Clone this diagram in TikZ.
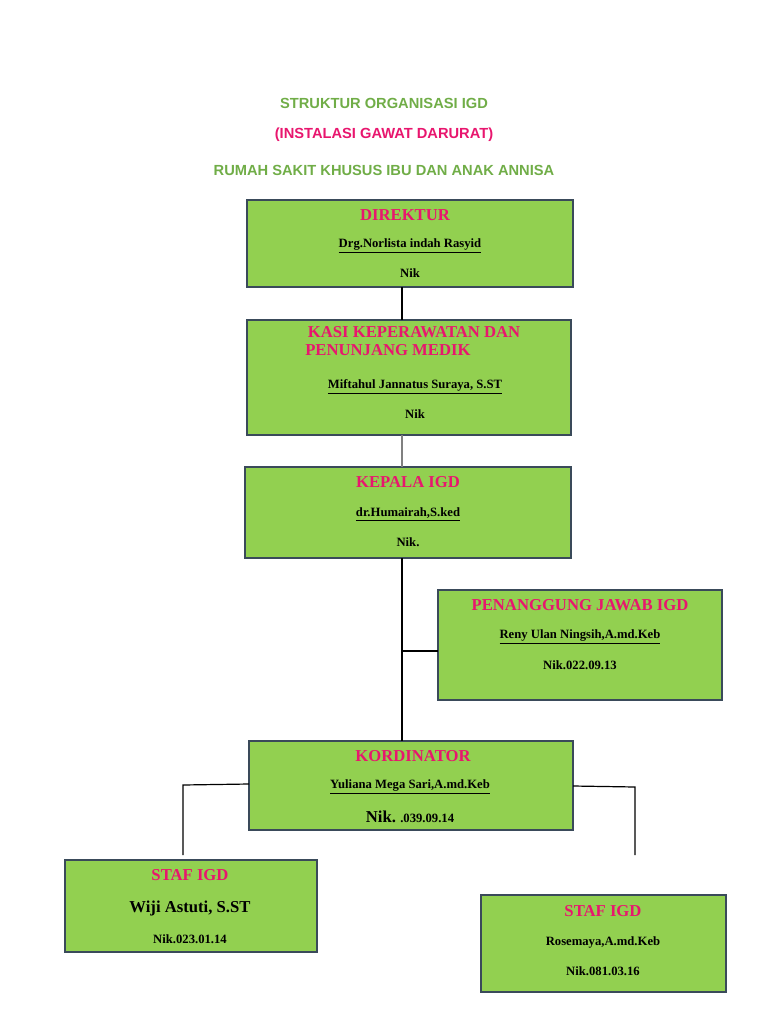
\documentclass[tikz,border=0pt]{standalone}
\usepackage{fontspec}
\setmainfont{Liberation Serif}
\newfontfamily\titlefont{Liberation Sans}
\definecolor{boxg}{HTML}{92D050}
\definecolor{ttlg}{HTML}{70AD47}
\definecolor{mag}{HTML}{E8166E}
\definecolor{edge}{HTML}{3A4A5A}
\begin{document}
\begin{tikzpicture}[x=0.75pt,y=-0.75pt,
  box/.style={draw=edge,fill=boxg,line width=0.8pt},
  hd/.style={text=mag,font=\bfseries\fontsize{12.5}{14}\selectfont,align=left},
  nm/.style={font=\bfseries\fontsize{9.5}{11}\selectfont},
  ttl/.style={font=\titlefont\bfseries\fontsize{11}{13}\selectfont},
  ln/.style={line width=0.9pt}]
\useasboundingbox (0,0) rectangle (768,1024);
\node[ttl,text=ttlg] (t1) at (384,103) {STRUKTUR ORGANISASI IGD};
\node[ttl,text=mag] (t2) at (384,135) {(INSTALASI GAWAT DARURAT)};
\node[ttl,text=ttlg] (t3) at (384,170) {RUMAH SAKIT KHUSUS IBU DAN ANAK ANNISA};
% boxes
\draw[box] (247,200) rectangle (573,287);
\node[hd] (h1) at (405,215) {DIREKTUR};
\node[nm] (n1) at (410,246) {\underline{Drg.Norlista indah Rasyid}};
\node[nm] (k1) at (410,273) {Nik};
\coordinate (b1t) at (402,200); \coordinate (b1b) at (402,287);
\draw[box] (247,320) rectangle (571,435);
\node[hd,anchor=north west,inner sep=0pt] (h2) at (305,326) {\hspace*{2pt}KASI KEPERAWATAN DAN\\PENUNJANG MEDIK};
\node[nm] (n2) at (415,387) {\underline{Miftahul Jannatus Suraya, S.ST}};
\node[nm] (k2) at (415,414) {Nik};
\coordinate (b2t) at (402,320); \coordinate (b2b) at (402,435);
\draw[box] (245,467) rectangle (571,558);
\node[hd] (h3) at (408,482) {KEPALA IGD};
\node[nm] (n3) at (408,514) {\underline{dr.Humairah,S.ked}};
\node[nm] (k3) at (408,542) {Nik.};
\coordinate (b3t) at (402,467); \coordinate (b3b) at (402,558);
\draw[box] (438,590) rectangle (722,700);
\node[hd] (h4) at (580,605) {PENANGGUNG JAWAB IGD};
\node[nm] (n4) at (580,637) {\underline{Reny Ulan Ningsih,A.md.Keb}};
\node[nm] (k4) at (580,665) {Nik.022.09.13};
\coordinate (b4l) at (438,651);
\draw[box] (249,741) rectangle (573,830);
\node[hd] (h5) at (413,756) {KORDINATOR};
\node[nm] (n5) at (410,787) {\underline{Yuliana Mega Sari,A.md.Keb}};
\node[nm] (k5) at (410,817) {{\fontsize{12.5}{14}\selectfont Nik.} .039.09.14};
\coordinate (b5t) at (402,741); \coordinate (b5l) at (249,784); \coordinate (b5r) at (573,786);
\draw[box] (65,860) rectangle (317,952);
\node[hd] (h6) at (190,875) {STAF IGD};
\node[font=\bfseries\fontsize{12.5}{14}\selectfont] (n6) at (190,908) {Wiji Astuti, S.ST};
\node[nm] (k6) at (190,939) {Nik.023.01.14};
\draw[box] (481,895) rectangle (726,992);
\node[hd] (h7) at (603,911) {STAF IGD};
\node[nm] (n7) at (603,942) {Rosemaya,A.md.Keb};
\node[nm] (k7) at (603,971) {Nik.081.03.16};
% connectors
\draw[ln] (b1b) -- (b2t);
\draw[ln,draw=gray] (b2b) -- (b3t);
\draw[ln] (b3b) -- (b5t);
\coordinate (j) at (402,651);
\draw[ln] (j) -- (b4l);
\coordinate (lc) at (183,785); \coordinate (le) at (183,855);
\coordinate (rc) at (635,787); \coordinate (re) at (635,855);
\draw[ln] (b5l) -- (lc) -- (le);
\draw[ln] (b5r) -- (rc) -- (re);
\end{tikzpicture}
\end{document}
